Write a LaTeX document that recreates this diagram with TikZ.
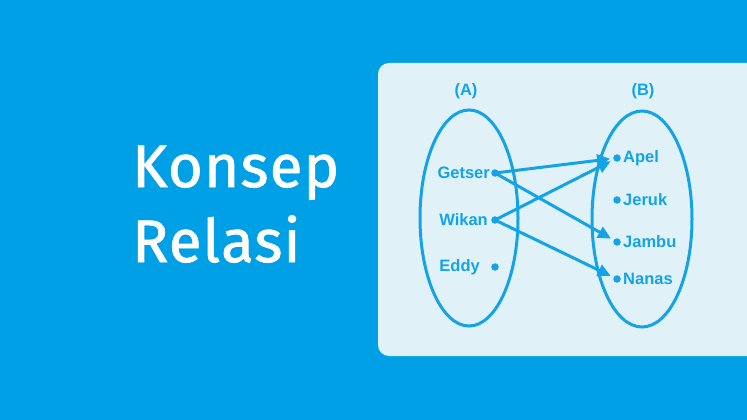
\documentclass[tikz,border=0pt]{standalone}
\usepackage{fontspec}
\setmainfont{Liberation Sans}
\newfontfamily\titlefont[FakeBold=1.2,LetterSpace=2]{Fira Sans}
\usetikzlibrary{arrows.meta}
\definecolor{bgblue}{HTML}{00A0E6}
\definecolor{panel}{HTML}{E0F1F7}
\definecolor{ink}{HTML}{14A3E6}
\tikzset{
  setell/.style={draw=ink, line width=3pt},
  lbl/.style={font=\bfseries\fontsize{16.5}{18}\selectfont, text=ink, inner sep=0pt},
  dotpt/.style={circle, fill=ink, inner sep=0pt, minimum size=7.5pt},
  rel/.style={draw=ink, line width=3pt, -{Triangle[length=13pt,width=12pt]}, shorten >=3pt, shorten <=1pt},
  ttl/.style={font=\titlefont\fontsize{60}{64}\selectfont, text=white, anchor=base west, inner sep=0pt}
}
\begin{document}
\begin{tikzpicture}[x=1pt,y=-1pt]
\fill[bgblue] (0,0) rectangle (747,420);
\useasboundingbox (0,0) rectangle (747,420);
\fill[panel, rounded corners=11pt] (378,63) rectangle (760,356);
\node[ttl] (t1) at (132,187) {Konsep};
\node[ttl] (t2) at (132,262) {Relasi};
\draw[setell] (469,218) ellipse [x radius=49, y radius=108];
\draw[setell] (642,219) ellipse [x radius=50, y radius=108];
\node[lbl] (la) at (466,91) {(A)};
\node[lbl] (lb) at (643,91) {(B)};
\node[dotpt] (g) at (495,173) {};
\node[dotpt] (w) at (495,220) {};
\node[dotpt] (e) at (495,267) {};
\node[dotpt] (ap) at (617,158) {};
\node[dotpt] (je) at (617,200) {};
\node[dotpt] (ja) at (617,242) {};
\node[dotpt] (na) at (617,279) {};
\node[lbl, anchor=east] (gt) at (490,173) {Getser};
\node[lbl, anchor=east] (wt) at (488,220) {Wikan};
\node[lbl, anchor=east] (et) at (480,267) {Eddy};
\node[lbl, anchor=west] (apt) at (623,158) {Apel};
\node[lbl, anchor=west] (jet) at (623,200) {Jeruk};
\node[lbl, anchor=west] (jat) at (623,242) {Jambu};
\node[lbl, anchor=west] (nat) at (623,279) {Nanas};
\draw[rel] (g.center) -- (ap);
\draw[rel] (g.center) -- (ja);
\draw[rel] (w.center) -- (ap);
\draw[rel] (w.center) -- (na);
\end{tikzpicture}
\end{document}
